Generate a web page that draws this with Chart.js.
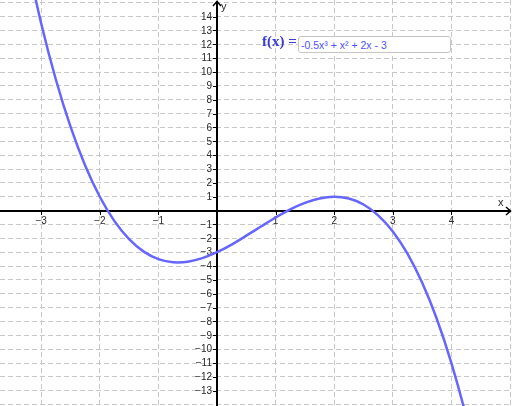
<!DOCTYPE html>
<html><head><meta charset="utf-8">
<script src="https://cdn.jsdelivr.net/npm/chart.js@4/dist/chart.umd.min.js"></script>
<style>
html,body{margin:0;padding:0;background:#fff;}
#wrap{position:relative;width:512px;height:406px;overflow:hidden;}
#fx{position:absolute;left:262px;top:33px;font:bold 15px "Liberation Serif","DejaVu Serif",serif;color:#3c3cd8;white-space:nowrap;}
#box{position:absolute;left:298px;top:36px;width:153px;height:17px;border:1px solid #c6c6c6;border-radius:3px;background:#fff;font:10.5px "Liberation Sans",Arial,sans-serif;color:#5050ff;line-height:16px;padding-left:2px;box-sizing:border-box;white-space:nowrap;}
</style></head>
<body><div id="wrap"><canvas id="c" width="512" height="406"></canvas>
<div id="fx">f(x) =</div><div id="box">-0.5x³ + x² + 2x - 3</div></div>
<script>
// curve samples
const xValues = [-3.25,-3,-2.75,-2.5,-2.25,-2,-1.75,-1.5,-1.25,-1,-0.75,-0.667,-0.5,-0.25,0,0.25,0.5,0.75,1,1.25,1.5,1.75,2,2.25,2.5,2.75,3,3.25,3.5,3.75,4,4.25,4.5];
const yValues = [18.23,13.5,9.46,6.06,3.26,1,-0.76,-2.06,-2.96,-3.5,-3.73,-3.74,-3.69,-3.43,-3,-2.45,-1.81,-1.15,-0.5,0.09,0.56,0.88,1,0.87,0.44,-0.34,-1.5,-3.1,-5.19,-7.8,-11,-14.82,-19.31];
const xTickValues = [-3,-2,-1,1,2,3,4];
const xTickLabels = ['\u22123','\u22122','\u22121','1','2','3','4'];
const yTickValues = [-13,-12,-11,-10,-9,-8,-7,-6,-5,-4,-3,-2,-1,1,2,3,4,5,6,7,8,9,10,11,12,13,14];
const yTickLabels = ['\u221213','\u221212','\u221211','\u221210','\u22129','\u22128','\u22127','\u22126','\u22125','\u22124','\u22123','\u22122','\u22121','1','2','3','4','5','6','7','8','9','10','11','12','13','14'];
const xRange = [-3.703, 5.034];
const yRange = [-14.098, 15.195];

const axesPlugin = {
  id: 'ggbAxes',
  beforeDatasetsDraw(chart) {
    const ctx = chart.ctx, xs = chart.scales.x, ys = chart.scales.y;
    const ox = Math.round(xs.getPixelForValue(0)), oy = Math.round(ys.getPixelForValue(0));
    const L = chart.chartArea.left, R = chart.chartArea.right, T = chart.chartArea.top, B = chart.chartArea.bottom;
    ctx.save();
    ctx.strokeStyle = '#000'; ctx.lineWidth = 2;
    ctx.beginPath();
    ctx.moveTo(L, oy); ctx.lineTo(R - 1, oy);
    ctx.moveTo(ox, B); ctx.lineTo(ox, T + 1);
    ctx.stroke();
    ctx.lineWidth = 1.5;
    ctx.beginPath();
    ctx.moveTo(R - 6, oy - 4); ctx.lineTo(R - 1.5, oy); ctx.lineTo(R - 6, oy + 4);
    ctx.moveTo(ox - 4, T + 6); ctx.lineTo(ox, T + 1.5); ctx.lineTo(ox + 4, T + 6);
    ctx.stroke();
    ctx.lineWidth = 1;
    ctx.beginPath();
    xTickValues.forEach(v => { const p = Math.round(xs.getPixelForValue(v)) + 0.5; ctx.moveTo(p, oy); ctx.lineTo(p, oy + 4); });
    yTickValues.forEach(v => { const p = Math.round(ys.getPixelForValue(v)) + 0.5; ctx.moveTo(ox - 4, p); ctx.lineTo(ox, p); });
    ctx.stroke();
    ctx.fillStyle = '#2a2a2a';
    ctx.font = '10px "Liberation Sans", Arial, sans-serif';
    ctx.textAlign = 'center'; ctx.textBaseline = 'middle';
    xTickValues.forEach((v, i) => ctx.fillText(xTickLabels[i], xs.getPixelForValue(v), oy + 10));
    ctx.textAlign = 'right';
    yTickValues.forEach((v, i) => ctx.fillText(yTickLabels[i], ox - 5, ys.getPixelForValue(v) + 0.5));
    ctx.font = '11px "Liberation Sans", Arial, sans-serif';
    ctx.textAlign = 'left';
    ctx.fillText('x', R - 14, oy - 8);
    ctx.fillText('y', ox + 4, T + 7);
    ctx.restore();
  }
};

new Chart(document.getElementById('c'), {
  type: 'line',
  data: {
    datasets: [{
      data: xValues.map((x, i) => ({ x: x, y: yValues[i] })),
      borderColor: '#6666ff',
      borderWidth: 2.5,
      pointRadius: 0,
      fill: false,
      cubicInterpolationMode: 'monotone'
    }]
  },
  options: {
    responsive: false,
    animation: false,
    layout: { padding: 0 },
    plugins: { legend: { display: false }, tooltip: { enabled: false } },
    scales: {
      x: {
        type: 'linear', min: xRange[0], max: xRange[1],
        ticks: { display: false, stepSize: 1, includeBounds: false },
        grid: { color: '#c8c8c8', lineWidth: 1, drawTicks: false },
        border: { display: false, dash: [5, 3] },
        afterFit: s => { s.height = 0; }
      },
      y: {
        type: 'linear', min: yRange[0], max: yRange[1],
        ticks: { display: false, stepSize: 1, includeBounds: false },
        grid: { color: '#c8c8c8', lineWidth: 1, drawTicks: false },
        border: { display: false, dash: [5, 3] },
        afterFit: s => { s.width = 0; }
      }
    }
  },
  plugins: [axesPlugin]
});
</script>
</body></html>
